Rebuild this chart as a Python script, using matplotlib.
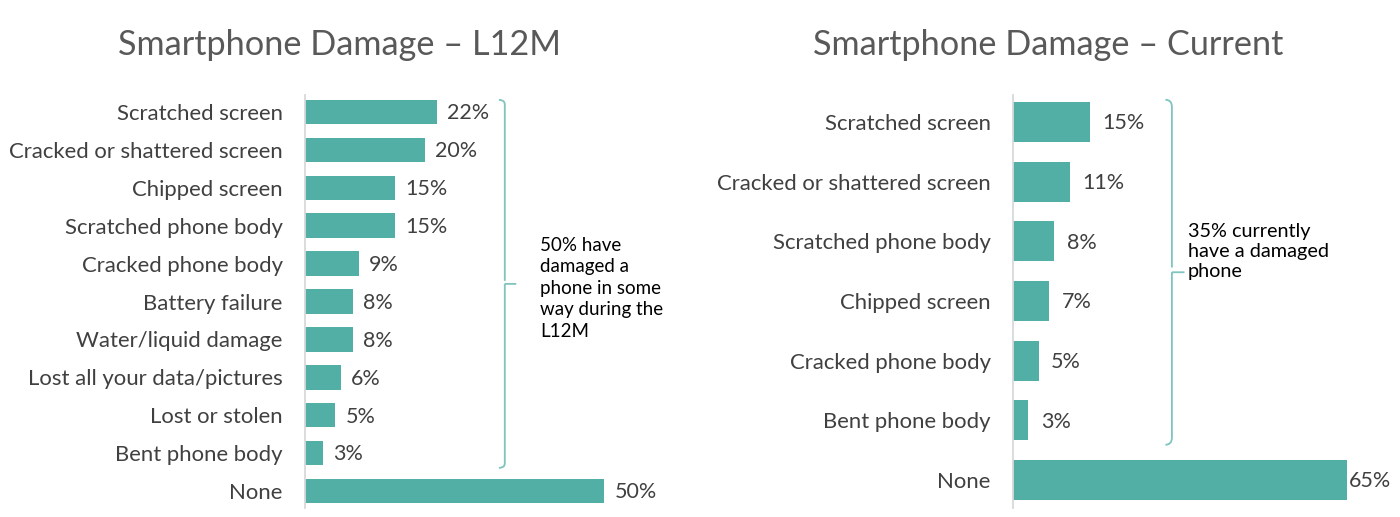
import matplotlib
matplotlib.use("Agg")
import matplotlib.pyplot as plt
from matplotlib.path import Path
from matplotlib.patches import PathPatch

plt.rcParams['font.family'] = ['Lato', 'DejaVu Sans']

# ---- data ----
l12m_categories = ["Scratched screen", "Cracked or shattered screen", "Chipped screen",
                   "Scratched phone body", "Cracked phone body", "Battery failure",
                   "Water/liquid damage", "Lost all your data/pictures", "Lost or stolen",
                   "Bent phone body", "None"]
l12m_values = [22, 20, 15, 15, 9, 8, 8, 6, 5, 3, 50]

current_categories = ["Scratched screen", "Cracked or shattered screen", "Scratched phone body",
                      "Chipped screen", "Cracked phone body", "Bent phone body", "None"]
current_values = [15, 11, 8, 7, 5, 3, 65]

titles = ["Smartphone Damage \u2013 L12M", "Smartphone Damage \u2013 Current"]
notes = ["50% have\ndamaged a\nphone in some\nway during the\nL12M",
         "35% currently\nhave a damaged\nphone"]

BAR = "#52AFA6"
BRACE = "#7FC4BE"
W, H = 1400, 517
fig = plt.figure(figsize=(W / 100, H / 100), dpi=100)


def ax_rect(x0, x1, ytop, ybot):
    return [x0 / W, 1 - ybot / H, (x1 - x0) / W, (ybot - ytop) / H]


def brace(ax, x, y0, y1, tip, curl):
    ym = (y0 + y1) / 2
    c = curl
    verts = [(x - c, y0), (x, y0), (x, y0 + 0.12), (x, ym - 0.08), (x, ym), (x + tip, ym),
             (x, ym), (x, ym + 0.08), (x, y1 - 0.12), (x, y1), (x - c, y1)]
    codes = [Path.MOVETO, Path.CURVE3, Path.CURVE3, Path.LINETO, Path.MOVETO, Path.LINETO,
             Path.MOVETO, Path.LINETO, Path.LINETO, Path.CURVE3, Path.CURVE3]
    ax.add_patch(PathPatch(Path(verts, codes), fill=False, edgecolor=BRACE, lw=1.3,
                           clip_on=False))


def panel(rect, cats, vals, xmax, ylim, title, title_x, note, brace_x, brace_y, note_x,
          note_y, bh, note_fs, note_ls, offsets):
    ax = fig.add_axes(rect)
    pos = list(range(len(cats)))
    ax.barh(pos, vals, height=bh, color=BAR)
    ax.set_xlim(0, xmax)
    ax.set_ylim(*ylim)
    ax.set_yticks(pos)
    ax.set_yticklabels(cats, fontsize=15.9, color="#404040")
    ax.tick_params(axis='y', length=0, pad=16)
    ax.set_xticks([])
    for s in ["top", "right", "bottom"]:
        ax.spines[s].set_visible(False)
    ax.spines["left"].set_color("#D9D9D9")
    ax.spines["left"].set_linewidth(1.3)
    for p, v, off in zip(pos, vals, offsets):
        ax.annotate(f"{v}%", (v, p), xytext=(off, -1), textcoords="offset points",
                    va="center", ha="left", fontsize=15.5, color="#404040",
                    annotation_clip=False)
    fig.text(title_x / W, 1 - 45 / H, title, ha="center", va="center", fontsize=24.7,
             color="#595959")
    brace(ax, brace_x, brace_y[0], brace_y[1], tip=xmax * 0.035, curl=xmax * 0.018)
    ax.text(note_x, note_y, note, ha="left", va="center", fontsize=note_fs, color="black",
            linespacing=note_ls, clip_on=False)
    return ax


panel(ax_rect(305, 634, 95, 508), l12m_categories, l12m_values, 55, (10.45, -0.45),
      titles[0], 340, notes[0], 33.4, (-0.32, 9.39), 39.3, 4.65, 0.65, 13.5, 1.32,
      [7.5] * len(l12m_values))
panel(ax_rect(1013, 1373, 95, 508), current_categories, current_values, 70, (6.47, -0.45),
      titles[1], 1048, notes[1], 30.9, (-0.37, 5.41), 34.0, 2.17, 0.67, 14.3, 1.22,
      [9] * (len(current_values) - 1) + [1])

fig.savefig("out.png", dpi=100, facecolor="white")
